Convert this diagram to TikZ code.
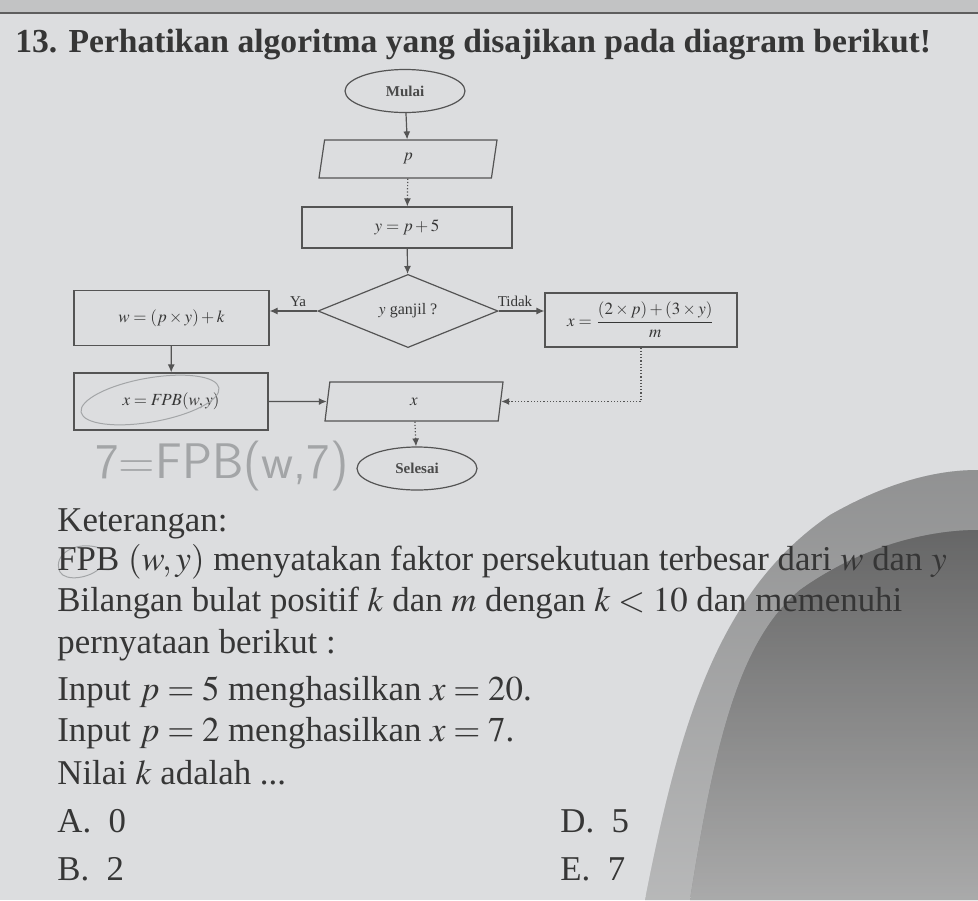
\documentclass[tikz,border=0pt]{standalone}
\usepackage{mathptmx}
\usepackage[no-math]{fontspec}
\setmainfont{Liberation Serif}
\newfontfamily\bodyfont{Liberation Serif}
\usetikzlibrary{shapes.geometric,arrows.meta}
\definecolor{paper}{HTML}{DCDDDF}
\definecolor{ink}{HTML}{363636}
\definecolor{shade}{HTML}{808183}
\definecolor{pencil}{HTML}{A3A5A7}

\begin{document}
\begin{tikzpicture}[
  x = 0.5pt, y = -0.5pt,
  line/.style  = {draw = ink!85, line width = 0.6pt},
  flow/.style  = {line, -{Latex[length = 4pt, width = 3.5pt]}},
  faint/.style = {flow, densely dotted},
  box/.style   = {rectangle, line, font = \fontsize{8.5}{10}\selectfont, text = ink},
  term/.style  = {ellipse, line, minimum width = 60pt, minimum height = 21.5pt, font = \fontsize{7.5}{9}\selectfont\bfseries, text = ink!90},
  io/.style    = {trapezium, trapezium left angle = 77, trapezium right angle = 103, trapezium stretches body, line, font = \fontsize{8.5}{10}\selectfont, text = ink},
  choice/.style = {diamond, line, minimum width = 90pt, minimum height = 35pt, inner sep = 0pt, font = \fontsize{8}{10}\selectfont, text = ink},
  tag/.style   = {font = \fontsize{7.5}{9}\selectfont, text = ink, inner sep = 1pt},
  line text/.style = {anchor = base west, inner sep = 0pt, text = ink, font = \bodyfont\fontsize{17.4}{20}\selectfont}
]
  \useasboundingbox (0,0) rectangle (978,900);
  \clip (0,0) rectangle (978,900);
  \fill[paper] (0,0) rectangle (978,900);
  \fill[paper!88!black] (0,0) rectangle (978,13);
  \draw[ink!80, line width = 1pt] (0,13) -- (978,13);
  \fill[shade, opacity = 0.3] (645,900) .. controls (680,720) and (720,590) .. (830,515) .. controls (900,475) and (950,470) .. (978,470) -- (978,900) -- cycle;
  \fill[shade, opacity = 0.45] (690,900) .. controls (715,740) and (740,640) .. (800,590) .. controls (870,540) and (940,530) .. (978,530) -- (978,900) -- cycle;

  \node[anchor = base west, inner sep = 0pt, text = ink, font = \fontsize{16.8}{20}\selectfont\bfseries] (title) at (15,52)
    {13. Perhatikan algoritma yang disajikan pada diagram berikut!};

  % flowchart
  \node[term] (mulai) at (405,91) {Mulai};
  \node[io, minimum width = 89pt, minimum height = 19pt] (inp) at (408,159) {$p$};
  \node[box, minimum width = 105pt, minimum height = 20.5pt] (calc) at (407,227.5) {$y = p + 5$};
  \node[choice] (cond) at (408,311) {$y$ ganjil ?};
  \node[box, minimum width = 97.5pt, minimum height = 27.5pt] (wbox) at (171.5,318) {$w = (p \times y) + k$};
  \node[box, minimum width = 96pt, minimum height = 27pt] (frac) at (641,320) {$x = \displaystyle\frac{(2 \times p) + (3 \times y)}{m}$};
  \node[box, minimum width = 97pt, minimum height = 28.5pt] (fpb) at (171,401.5) {$x = \mathit{FPB}(w, y)$};
  \node[io, minimum width = 89pt, minimum height = 19.5pt] (out) at (414,401.5) {$x$};
  \node[term] (selesai) at (417,468.5) {Selesai};

  \draw[flow] (mulai) -- (inp);
  \draw[faint] (inp) -- (calc);
  \draw[flow] (calc) -- (cond);
  \draw[flow] (cond.west) -- (cond.west -| wbox.east);
  \draw[flow] (cond.east) -- (cond.east -| frac.west);
  \draw[flow] (wbox) -- (fpb);
  \draw[flow] (fpb.east) -- (out.west);
  \draw[faint] (frac.south) |- (out.east);
  \draw[faint] (out) -- (selesai);

  \node[tag, anchor = south] (ya) at (298,309) {Ya};
  \node[tag, anchor = south] (tidak) at (515,309) {Tidak};

  % pencil marks
  \draw[pencil, line width = 0.5pt, rotate around = {10:(150,400)}] (150,400) ellipse [x radius = 70, y radius = 22];
  \node[anchor = base west, inner sep = 0pt, text = pencil, font = \sffamily\fontsize{25}{28}\selectfont] (note) at (95,478) {7=FPB(w,7)};
  \draw[pencil, line width = 0.5pt] (100,548) .. controls (75,540) and (52,555) .. (60,572) .. controls (66,582) and (90,578) .. (100,568);

  % remarks
  \node[line text] (r1) at (57,531) {Keterangan:};
  \node[line text] (r2) at (57,570) {FPB $(w, y)$ menyatakan faktor persekutuan terbesar dari $w$ dan $y$};
  \node[line text] (r3) at (57,611) {Bilangan bulat positif $k$ dan $m$ dengan $k < 10$ dan memenuhi};
  \node[line text] (r4) at (57,653) {pernyataan berikut :};
  \node[line text] (r5) at (57,700) {Input $p = 5$ menghasilkan $x = 20$.};
  \node[line text] (r6) at (57,741) {Input $p = 2$ menghasilkan $x = 7$.};
  \node[line text] (r7) at (57,784) {Nilai $k$ adalah ...};
  \node[line text] (a) at (57,832) {A.\enspace 0};
  \node[line text] (b) at (57,880) {B.\enspace 2};
  \node[line text] (d) at (560,832) {D.\enspace 5};
  \node[line text] (e) at (560,880) {E.\enspace 7};
\end{tikzpicture}
\end{document}
